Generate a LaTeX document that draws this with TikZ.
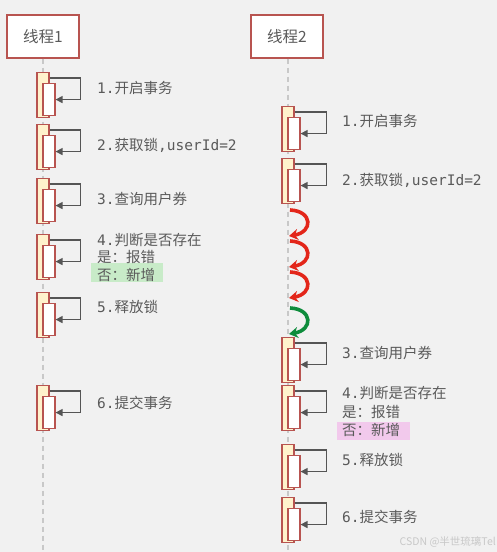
\documentclass[tikz,border=0pt]{standalone}
\usepackage{fontspec}
\setmainfont{DejaVu Sans Mono}
\newfontfamily\cjkf{Noto Sans CJK SC}
\usetikzlibrary{arrows.meta}
\definecolor{bgc}{HTML}{F1F1F1}
\definecolor{redc}{HTML}{B85450}
\definecolor{creamc}{HTML}{FFF2CC}
\definecolor{txtc}{HTML}{5A5A5A}
\definecolor{linec}{HTML}{555555}
\definecolor{lifec}{HTML}{C8C8C8}
\definecolor{greenhl}{HTML}{C8EBC8}
\definecolor{pinkhl}{HTML}{F2C9EC}
\definecolor{curlred}{HTML}{E3261A}
\definecolor{curlgreen}{HTML}{0E8C3C}
\definecolor{wmc}{HTML}{C8C8C8}
\tikzset{
  headbox/.style={draw=redc, line width=1.2pt, fill=white, minimum width=72pt, minimum height=43pt, inner sep=0pt, text=txtc, font=\cjkf\fontsize{15.5}{18}\selectfont},
  outerbox/.style={draw=redc, line width=1.1pt, fill=creamc, minimum width=12pt, minimum height=45pt, inner sep=0pt},
  innerbox/.style={draw=redc, line width=1.1pt, fill=white, minimum width=12pt, minimum height=32pt, inner sep=0pt},
  selfarrow/.style={draw=linec, line width=1.3pt, -{Triangle[length=7pt,width=7pt]}},
  lifeline/.style={draw=lifec, line width=1.3pt, dash pattern=on 5pt off 4pt},
  label/.style={anchor=base west, inner sep=0pt, text=txtc, font=\fontsize{14.5}{17.5}\selectfont},
  curl/.style={line width=3.6pt, -{Stealth[length=9pt,width=11pt]}},
  hlbox/.style={inner sep=0pt, anchor=north west},
}
\newcommand\myact[4]{%
  \node[outerbox, anchor=north] (#1o) at (#2,#3) {};
  \node[innerbox, anchor=north] (#1i) at ([xshift=6pt,yshift=-11pt]#1o.north) {};
  \draw[selfarrow] ([yshift=-6pt]#1o.north east) -- ++(#4,0) |- (#1i.east);
}
\begin{document}
\begin{tikzpicture}[x=1pt,y=-1pt]
\useasboundingbox (0,0) rectangle (497,552);
\fill[bgc] (0,0) rectangle (497,552);
% headers
\node[headbox] (h1) at (43,36.5) {线程1};
\node[headbox] (h2) at (287,36.5) {线程2};
\coordinate (e1) at (43,552);
\coordinate (e2) at (288,552);
\draw[lifeline] (h1.south) -- (e1);
\draw[lifeline] ([xshift=1pt]h2.south) -- (e2);
% highlights
\node[hlbox, fill=greenhl, minimum width=72pt, minimum height=19pt] (g1) at (91,263) {};
\node[hlbox, fill=pinkhl, minimum width=73pt, minimum height=18pt] (p1) at (337,422) {};
% left activations
\myact{La}{43}{72}{31}
\myact{Lb}{43}{124}{31}
\myact{Lc}{43}{178}{31}
\myact{Ld}{43}{234}{31}
\myact{Le}{43}{292}{31}
\myact{Lf}{43}{385}{31}
% right activations
\myact{Ra}{288}{106}{32}
\myact{Rb}{288}{158}{32}
\myact{Rc}{288}{337}{32}
\myact{Rd}{288}{385}{32}
\myact{Re}{288}{444}{32}
\myact{Rf}{288}{497}{32}
% left labels
\node[label] (tla) at (97,93) {1.{\cjkf 开启事务}};
\node[label] (tlb) at (97,150) {2.{\cjkf 获取锁},userId=2};
\node[label] (tlc) at (97,204) {3.{\cjkf 查询用户券}};
\node[label] (tld1) at (97,245) {4.{\cjkf 判断是否存在}};
\node[label] (tld2) at (97,262.5) {\cjkf 是：报错};
\node[label] (tld3) at (97,280) {\cjkf 否：新增};
\node[label] (tle) at (97,312) {5.{\cjkf 释放锁}};
\node[label] (tlf) at (97,408) {6.{\cjkf 提交事务}};
% right labels
\node[label] (tra) at (342,126) {1.{\cjkf 开启事务}};
\node[label] (trb) at (342,185) {2.{\cjkf 获取锁},userId=2};
\node[label] (trc) at (342,358) {3.{\cjkf 查询用户券}};
\node[label] (trd1) at (342,398) {4.{\cjkf 判断是否存在}};
\node[label] (trd2) at (342,417) {\cjkf 是：报错};
\node[label] (trd3) at (342,435) {\cjkf 否：新增};
\node[label] (tre) at (342,465) {5.{\cjkf 释放锁}};
\node[label] (trf) at (342,522) {6.{\cjkf 提交事务}};
% waiting curls
\coordinate (c1a) at (290,210); \coordinate (c1b) at (289,236);
\coordinate (c2a) at (290,241); \coordinate (c2b) at (289,267);
\coordinate (c3a) at (290,272); \coordinate (c3b) at (289,298);
\coordinate (c4a) at (290,308); \coordinate (c4b) at (289,334);
\draw[curl, curlred] (c1a) .. controls (313,211) and (313,232) .. (c1b);
\draw[curl, curlred] (c2a) .. controls (313,242) and (313,263) .. (c2b);
\draw[curl, curlred] (c3a) .. controls (313,273) and (313,294) .. (c3b);
\draw[curl, curlgreen] (c4a) .. controls (313,309) and (313,330) .. (c4b);
% watermark
\node[anchor=base east, inner sep=0pt, text=wmc, font=\cjkf\fontsize{10.5}{12}\selectfont] (wm) at (496,545) {CSDN @半世琉璃Tel};
\end{tikzpicture}
\end{document}
